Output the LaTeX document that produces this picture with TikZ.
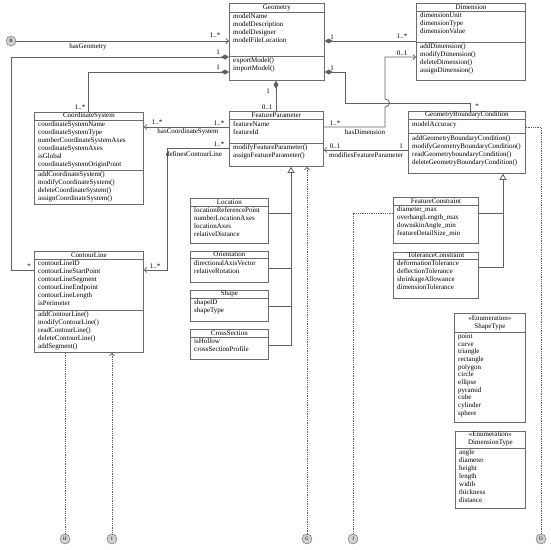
\documentclass[tikz,border=0pt]{standalone}
\usepackage{fontspec}
\setmainfont{Liberation Serif}
\usetikzlibrary{shapes,arrows.meta,positioning}
\newcommand{\umlfont}{\fontsize{7}{8}\selectfont}

\begin{document}
\begin{tikzpicture}[x=1pt,y=-1pt,>={Straight Barb[length=2.5pt,width=5pt]}]
\tikzstyle{cls}=[draw=gray!85!black, fill=white, anchor=north west, inner sep=0pt, line width=0.8pt]
\tikzstyle{bar}=[draw=gray!85!black, line width=0.8pt]
\tikzstyle{ttl}=[font=\umlfont, inner sep=0pt]
\tikzstyle{txt}=[font=\umlfont, align=left, anchor=north west, inner xsep=4pt, inner ysep=1pt]
\tikzstyle{lab}=[font=\umlfont, inner sep=1pt]
\tikzstyle{link}=[draw=gray!75!black, line width=0.8pt]
\tikzstyle{comp}=[link, {Diamond[length=8pt,width=5pt]}-]
\tikzstyle{gen}=[link, {Triangle[open,length=6pt,width=7pt,fill=white]}-]
\tikzstyle{dep}=[link, densely dotted]
\tikzstyle{conn}=[circle, draw=gray!75!black, fill=gray!35, inner sep=0pt, minimum size=10pt, font=\fontsize{5}{6}\selectfont]
\useasboundingbox (0,0) rectangle (550,550);

% classes
\node[cls, minimum width=95, minimum height=77] (geo) at (229,3) {};
\node[ttl] at (geo.north |- 0,7.5) {Geometry};
\draw[bar] (geo.west |- 0,12) -- (geo.east |- 0,12) (geo.west |- 0,56) -- (geo.east |- 0,56);
\node[txt] at (geo.west |- 0,12) {modelName\\modelDescription\\modelDesigner\\modelFileLocation};
\node[txt] at (geo.west |- 0,56.5) {exportModel()\\importModel()};

\node[cls, minimum width=109, minimum height=77] (dim) at (416,3) {};
\node[ttl] at (dim.north |- 0,7) {Dimension};
\draw[bar] (dim.west |- 0,11) -- (dim.east |- 0,11) (dim.west |- 0,42) -- (dim.east |- 0,42);
\node[txt] at (dim.west |- 0,11.5) {dimensionUnit\\dimensionType\\dimensionValue};
\node[txt] at (dim.west |- 0,42.5) {addDimension()\\modifyDimension()\\deleteDimension()\\assignDimension()};

\node[cls, minimum width=109, minimum height=92] (cs) at (34,112) {};
\node[ttl] at (cs.north |- 0,116) {CoordinateSystem};
\draw[bar] (cs.west |- 0,120) -- (cs.east |- 0,120) (cs.west |- 0,170) -- (cs.east |- 0,170);
\node[txt] at (cs.west |- 0,120.5) {coordinateSystemName\\coordinateSystemType\\numberCoordinateSystemAxes\\coordinateSystemAxes\\isGlobal\\coordinateSystemOriginPoint};
\node[txt] at (cs.west |- 0,170.5) {addCoordinateSystem()\\modifyCoordinateSystem()\\deleteCoordinateSystem()\\assignCoordinateSystem()};

\node[cls, minimum width=94, minimum height=55] (fp) at (229,111) {};
\node[ttl] at (fp.north |- 0,115) {FeatureParameter};
\draw[bar] (fp.west |- 0,119) -- (fp.east |- 0,119) (fp.west |- 0,143) -- (fp.east |- 0,143);
\node[txt] at (fp.west |- 0,120) {featureName\\featureId};
\node[txt] at (fp.west |- 0,143.5) {modifyFeatureParameter()\\assignFeatureParameter()};

\node[cls, minimum width=117, minimum height=62] (gbc) at (408,111) {};
\node[ttl] at (gbc.north |- 0,115) {GeometryBoundaryCondition};
\draw[bar] (gbc.west |- 0,119) -- (gbc.east |- 0,119) (gbc.west |- 0,133) -- (gbc.east |- 0,133);
\node[txt] at (gbc.west |- 0,120) {modelAccuracy};
\node[txt] at (gbc.west |- 0,134) {addGeometryBoundaryCondition()\\modifyGeometryBoundaryCondition()\\readGeometryboundaryCondition()\\deleteGeometryBoundaryCondition()};

\node[cls, minimum width=109, minimum height=101] (cl) at (34,251) {};
\node[ttl] at (cl.north |- 0,255) {ContourLine};
\draw[bar] (cl.west |- 0,259) -- (cl.east |- 0,259) (cl.west |- 0,310) -- (cl.east |- 0,310);
\node[txt] at (cl.west |- 0,260) {contourLineID\\contourLineStartPoint\\contourLineSegment\\contourLineEndpoint\\contourLineLength\\isPerimeter};
\node[txt] at (cl.west |- 0,310.5) {addContourLine()\\modifyContourLine()\\readContourLine()\\deleteContourLine()\\addSegment()};

\node[cls, minimum width=78, minimum height=45] (loc) at (190,198) {};
\node[ttl] at (loc.north |- 0,202) {Location};
\draw[bar] (loc.west |- 0,206) -- (loc.east |- 0,206);
\node[txt] at (loc.west |- 0,206) {locationReferencePoint\\numberLocationAxes\\locationAxes\\relativeDistance};

\node[cls, minimum width=78, minimum height=31] (ori) at (190,251) {};
\node[ttl] at (ori.north |- 0,254.5) {Orientation};
\draw[bar] (ori.west |- 0,258) -- (ori.east |- 0,258);
\node[txt] at (ori.west |- 0,259.5) {directionalAxisVector\\relativeRotation};

\node[cls, minimum width=78, minimum height=31] (shp) at (190,290) {};
\node[ttl] at (shp.north |- 0,294) {Shape};
\draw[bar] (shp.west |- 0,298) -- (shp.east |- 0,298);
\node[txt] at (shp.west |- 0,298.5) {shapeID\\shapeType};

\node[cls, minimum width=78, minimum height=30] (crs) at (190,329) {};
\node[ttl] at (crs.north |- 0,333) {CrossSection};
\draw[bar] (crs.west |- 0,337) -- (crs.east |- 0,337);
\node[txt] at (crs.west |- 0,337.5) {isHollow\\crossSectionProfile};

\node[cls, minimum width=85, minimum height=46] (fc) at (393,197) {};
\node[ttl] at (fc.north |- 0,201) {FeatureConstraint};
\draw[bar] (fc.west |- 0,205) -- (fc.east |- 0,205);
\node[txt] at (fc.west |- 0,205.5) {diameter\_max\\overhangLength\_max\\downskinAngle\_min\\featureDetailSize\_min};

\node[cls, minimum width=85, minimum height=46] (tc) at (393,252) {};
\node[ttl] at (tc.north |- 0,255.5) {ToleranceConstraint};
\draw[bar] (tc.west |- 0,259) -- (tc.east |- 0,259);
\node[txt] at (tc.west |- 0,259.5) {deformationTolerance\\deflectionTolerance\\shrinkageAllowance\\dimensionTolerance};

% enumerations
\node[cls, minimum width=71, minimum height=109] (st) at (454,313) {};
\node[ttl, align=center] at (st.north |- 0,323) {«Enumeration»\\ShapeType};
\draw[bar] (st.west |- 0,332) -- (st.east |- 0,332);
\node[txt, font=\fontsize{7}{7.7}\selectfont] at (st.west |- 0,332.5) {point\\curve\\triangle\\rectangle\\polygon\\circle\\ellipse\\pyramid\\cube\\cylinder\\sphere};

\node[cls, minimum width=70, minimum height=77] (dt) at (455,431) {};
\node[ttl, align=center] at (dt.north |- 0,439) {«Enumeration»\\DimensionType};
\draw[bar] (dt.west |- 0,448) -- (dt.east |- 0,448);
\node[txt] at (dt.west |- 0,448.5) {angle\\diameter\\height\\length\\width\\thickness\\distance};

% off-page connectors
\node[conn] (B) at (11,41) {B};
\node[conn] (H) at (65,539) {H};
\node[conn] (I) at (112,539) {I};
\node[conn] (G) at (307,539) {G};
\node[conn] (J) at (353,539) {J};
\node[conn] (D) at (541,539) {D};

% associations
\draw[link,->] (B) -- (geo.west |- B);
\node[lab] at (88,47) {hasGeometry};
\node[lab] at (215,35) {1..*};

\draw[comp] (geo.west |- 0,57) -- (11,57) |- (cl.west |- 0,270);
\node[lab] at (218,52) {1};
\node[lab] at (29,266) {*};

\draw[comp] (geo.west |- 0,72) -| (cs.north -| 88,0);
\node[lab] at (218,67) {1};
\node[lab] at (80,107) {1..*};

\draw[comp] (geo.east |- 0,41) -- (dim.west |- 0,41);
\node[lab] at (332,37) {1};
\node[lab] at (402,36) {1..*};

\draw[comp] (geo.east |- 0,72) -- (345,72) -- (345,103) -| (gbc.north -| 470,0);
\node[lab] at (332,68) {1};
\node[lab] at (477,106) {*};

\draw[comp] (geo.south -| 276,0) -- (fp.north -| 276,0);
\node[lab] at (268,91) {1};
\node[lab] at (267,107) {0..1};

\draw[link,->] (fp.west |- 0,127) -- (cs.east |- 0,127);
\node[lab] at (219,123) {1..*};
\node[lab] at (157,122) {1..*};
\node[lab] at (188,132) {hasCoordinateSystem};

\draw[link,->] (fp.west |- 0,148) -| (167,270) -- (cl.east |- 0,270);
\node[lab] at (219,144) {1..*};
\node[lab] at (155,266) {1..*};
\node[lab] at (194,154) {definesContourLine};

\draw[link,->] (fp.east |- 0,127) -- (385,127) -- (385,107) .. controls (391,107) and (391,99) .. (385,99) -- (385,57) -- (dim.west |- 0,57);
\node[lab] at (335,123) {1..*};
\node[lab] at (365,132) {hasDimension};
\node[lab] at (402,53) {0..1};

\draw[link,->] (gbc.west |- 0,150) -- (fp.east |- 0,150);
\node[lab] at (401,146) {1};
\node[lab] at (335,146) {0..1};
\node[lab] at (366,155) {modifiesFeatureParameter};

% generalizations
\draw[gen] (fp.south -| 291,0) -- (291,345) -- (crs.east |- 0,345);
\draw[link] (loc.east |- 0,213) -- (291,213) (ori.east |- 0,268) -- (291,268) (shp.east |- 0,306) -- (291,306);
\draw[gen] (gbc.south -| 503,0) |- (tc.east |- 0,267);
\draw[link] (fc.east |- 0,213) -- (503,213);

% dependencies
\draw[dep,<-] (fp.south -| G) -- (G);
\draw[dep] (cl.south -| H) -- (H);
\draw[dep,<-] (cl.south -| I) -- (I);
\draw[dep] (fc.west |- 0,213) -| (J);
\draw[dep] (gbc.east |- 0,127) -| (D);
\end{tikzpicture}
\end{document}
